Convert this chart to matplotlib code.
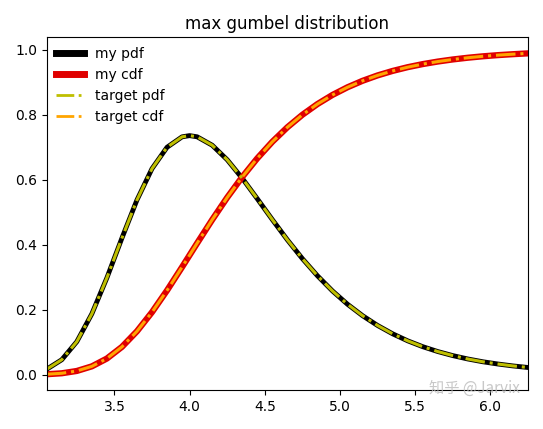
import matplotlib.pyplot as plt

# values
x = [3.05, 3.15, 3.25, 3.35, 3.45, 3.55, 3.65, 3.75, 3.85, 3.95, 4.0, 4.05, 4.15, 4.25,
     4.35, 4.45, 4.55, 4.65, 4.75, 4.85, 4.95, 5.05, 5.15, 5.25, 5.35, 5.45, 5.55,
     5.65, 5.75, 5.85, 5.95, 6.05, 6.15, 6.25]
pdf = [0.0167, 0.0459, 0.1014, 0.1872, 0.2979, 0.4203, 0.5377, 0.6341, 0.7000, 0.7321,
       0.7358, 0.7322, 0.7063, 0.6615, 0.6045, 0.5415, 0.4773, 0.4150, 0.3570, 0.3044,
       0.2576, 0.2167, 0.1815, 0.1513, 0.1257, 0.1041, 0.0861, 0.0711, 0.0586, 0.0482,
       0.0396, 0.0327, 0.0268, 0.0220]
cdf = [0.00125, 0.00419, 0.01131, 0.02551, 0.04958, 0.08543, 0.1335, 0.1923, 0.2593,
       0.3312, 0.3679, 0.4046, 0.4767, 0.5453, 0.6086, 0.6659, 0.7169, 0.7615, 0.8000,
       0.8330, 0.8611, 0.8847, 0.9046, 0.9212, 0.9350, 0.9465, 0.9560, 0.9638, 0.9703,
       0.9756, 0.9800, 0.9836, 0.9865, 0.9890]

fig, ax = plt.subplots(figsize=(5.43, 4.29), dpi=100)
ax.plot(x, pdf, color='black', lw=3.5, label='my pdf')
ax.plot(x, cdf, color='#e00000', lw=4.5, label='my cdf')
ax.plot(x, pdf, color='y', lw=2.2, ls='-.', label='target pdf')
ax.plot(x, cdf, color='orange', lw=2.2, ls='-.', label='target cdf')
ax.set_xlim(3.05, 6.25)
ax.set_title('max gumbel distribution')
leg = ax.legend(loc='upper left', frameon=False, borderaxespad=0.3)
for ln, w in zip(leg.get_lines(), [5, 5, 2, 2]):
    ln.set_linewidth(w)
fig.text(0.79, 0.085, '知乎 @Jarvix', color='#bbbbbb', fontsize=11,
         family=['Noto Sans CJK SC', 'DejaVu Sans'], alpha=0.8)
plt.tight_layout()
plt.savefig('out.png', dpi=100)
